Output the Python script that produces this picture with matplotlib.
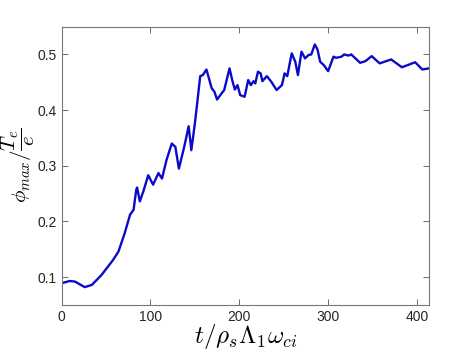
import matplotlib.pyplot as plt

plt.rcParams['mathtext.fontset'] = 'cm'
plt.rcParams['font.family'] = ['Liberation Sans', 'DejaVu Sans']

# time samples and phi_max values
t = [0, 9, 15, 26, 34, 45, 58, 64, 71, 77, 81, 84, 85, 88, 92, 97.5, 103, 109, 113,
     118, 124, 128, 132, 138, 143, 146, 150, 153, 156, 159, 163, 169, 172, 175, 180,
     183, 189, 192, 195, 198, 201, 206, 210, 213, 216, 218, 221, 224, 226, 231, 236,
     242, 248, 251, 254, 259, 263, 266, 270, 274, 278, 281, 285, 288, 291, 295, 300,
     306, 309, 315, 318, 323, 326, 336, 342, 349, 358, 371, 383, 398, 406, 413.5]
phi = [0.089, 0.093, 0.092, 0.082, 0.086, 0.104, 0.131, 0.146, 0.179, 0.212, 0.221,
       0.257, 0.261, 0.236, 0.254, 0.283, 0.266, 0.287, 0.277, 0.310, 0.340, 0.334,
       0.295, 0.334, 0.371, 0.328, 0.376, 0.418, 0.461, 0.463, 0.473, 0.439, 0.433,
       0.419, 0.430, 0.436, 0.475, 0.454, 0.437, 0.445, 0.427, 0.424, 0.454, 0.445,
       0.452, 0.448, 0.469, 0.466, 0.452, 0.461, 0.451, 0.436, 0.445, 0.466, 0.461,
       0.502, 0.487, 0.463, 0.505, 0.493, 0.499, 0.500, 0.518, 0.509, 0.487, 0.481,
       0.470, 0.496, 0.494, 0.496, 0.500, 0.498, 0.500, 0.485, 0.488, 0.497, 0.484,
       0.491, 0.477, 0.486, 0.473, 0.475]

xticks = [0, 100, 200, 300, 400]
yticks = [0.1, 0.2, 0.3, 0.4, 0.5]

fig = plt.figure(figsize=(4.74, 3.55), dpi=100)
ax = fig.add_axes([0.130, 0.141, 0.775, 0.784])
ax.plot(t, phi, color='#0a0ac8', linewidth=1.7, solid_joinstyle='round')

ax.set_xlim(0, 413.5)
ax.set_ylim(0.05, 0.55)
ax.set_xticks(xticks)
ax.set_yticks(yticks)
ax.set_yticklabels([f'{v:.1f}' for v in yticks])
ax.tick_params(direction='in', length=4, width=0.6, top=True, right=True,
               labelsize=10, colors='#555555', labelcolor='#262626')
for s in ax.spines.values():
    s.set_color('#777777')
    s.set_linewidth(0.8)

ax.set_xlabel(r'$t/\rho_s\Lambda_1\omega_{ci}$', fontsize=18, labelpad=-1)
ax.set_ylabel(r'$\phi_{max}/\dfrac{T_e}{e}$', fontsize=15, va='center')
ax.yaxis.set_label_coords(-0.118, 0.5)

fig.savefig('out.png', dpi=100)
